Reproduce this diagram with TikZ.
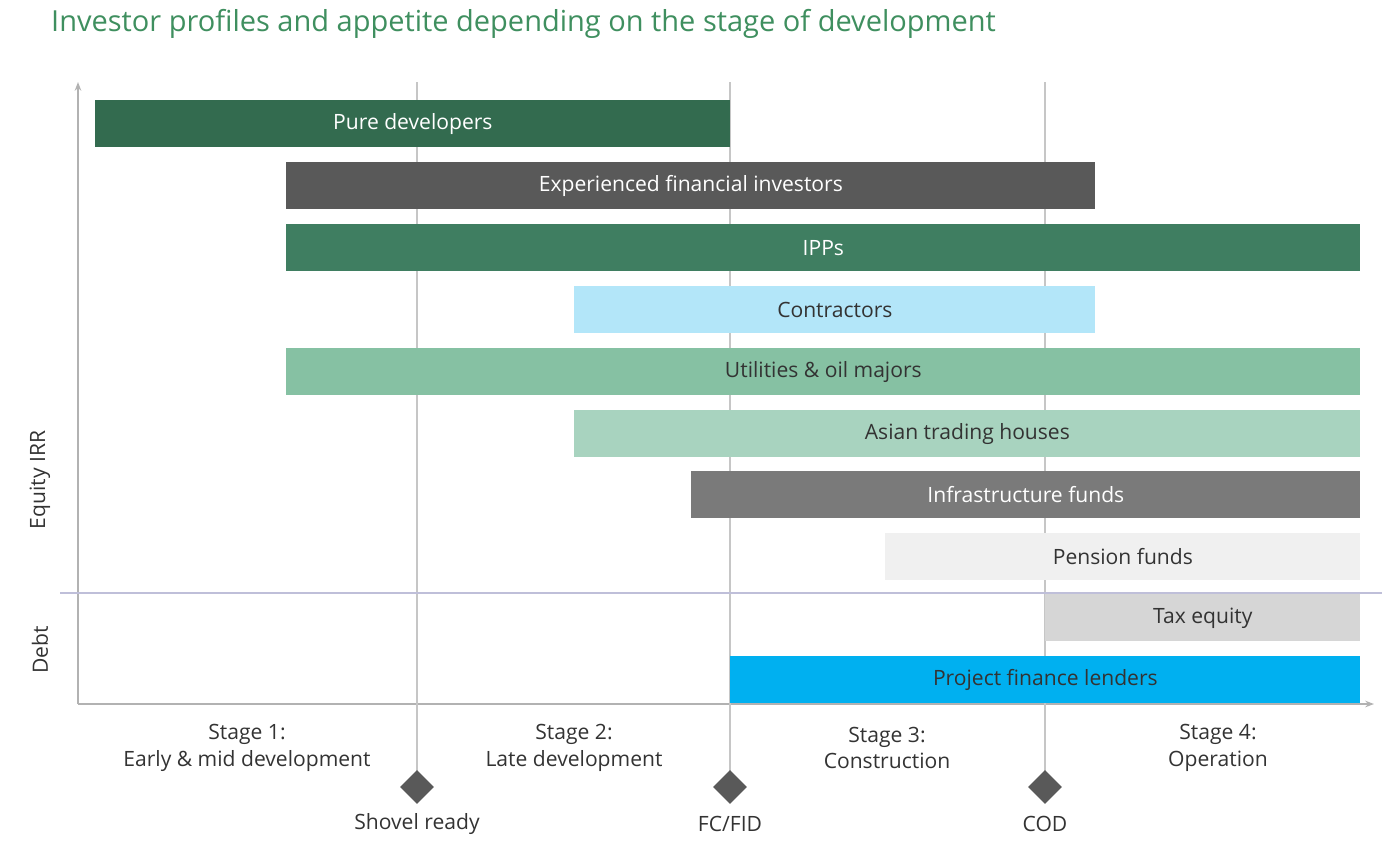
\documentclass[tikz,border=0pt]{standalone}
\usepackage{fontspec}
\setmainfont{Open Sans}
\usetikzlibrary{arrows.meta}
\definecolor{ttl}{HTML}{3F8F5F}
\definecolor{txt}{HTML}{333333}
\tikzset{
 bar/.style={anchor=north west,minimum height=0.94cm,inner sep=0pt,font=\fontsize{12}{14}\selectfont},
 lbl/.style={font=\fontsize{12}{15}\selectfont,text=txt,align=center},
 vline/.style={draw=gray!45,line width=0.6pt},
 dia/.style={fill=black!65,minimum size=0.48cm,inner sep=0pt,rotate=45}
}
\begin{document}
\begin{tikzpicture}[x=0.02cm,y=-0.02cm]
\useasboundingbox (0,0) rectangle (1400,840);
\node[anchor=west,text=ttl,font=\fontsize{16.5}{20}\selectfont] (title) at (45,24) {Investor profiles and appetite depending on the stage of development};
\coordinate (o) at (78,704);
\coordinate (yt) at (78,82);
\coordinate (xt) at (1374,704);
\draw[gray!60,line width=0.7pt,-{Stealth[length=5pt]}] (o) -- (yt);
\draw[gray!60,line width=0.7pt,-{Stealth[length=5pt]}] (o) -- (xt);
\foreach \x/\n in {417/a,730/b,1045/c}{
 \coordinate (t\n) at (\x,82); \coordinate (b\n) at (\x,790);
 \draw[vline] (t\n) -- (b\n);
}
\coordinate (hl) at (60,593); \coordinate (hr) at (1382,593);
\draw[draw=blue!25!gray!40,line width=0.6pt] (hl) -- (hr);
\def\B#1#2#3#4#5#6#7{\node[bar,fill=#5,text=#6,minimum width={(#3-#1)*0.02cm}] (#7) at (#1,#2) {#4};}
\definecolor{c1}{HTML}{336B4F}\definecolor{c2}{HTML}{595959}\definecolor{c3}{HTML}{3F7E61}
\definecolor{c4}{HTML}{B3E6F9}\definecolor{c5}{HTML}{86C1A3}\definecolor{c6}{HTML}{A8D3BF}
\definecolor{c7}{HTML}{7A7A7A}\definecolor{c8}{HTML}{F0F0F0}\definecolor{c9}{HTML}{D6D6D6}
\definecolor{c10}{HTML}{00B0F0}
\B{95}{100}{730}{Pure developers}{c1}{white}{b1}
\B{286}{162}{1095}{Experienced financial investors}{c2}{white}{b2}
\B{286}{224}{1360}{IPPs}{c3}{white}{b3}
\B{574}{286}{1095}{Contractors}{c4}{txt}{b4}
\B{286}{348}{1360}{Utilities \& oil majors}{c5}{txt}{b5}
\B{574}{410}{1360}{Asian trading houses}{c6}{txt}{b6}
\B{691}{471}{1360}{Infrastructure funds}{c7}{white}{b7}
\B{885}{533}{1360}{Pension funds}{c8}{txt}{b8}
\B{1045}{594}{1360}{Tax equity}{c9}{txt}{b9}
\B{730}{656}{1360}{Project finance lenders}{c10}{txt}{b10}
\node[lbl,rotate=90] (eq) at (40,480) {Equity IRR};
\node[lbl,rotate=90] (debt) at (40,650) {Debt};
\node[lbl] (s1) at (247,748) {Stage 1:\\Early \& mid development};
\node[lbl] (s2) at (574,748) {Stage 2:\\Late development};
\node[lbl] (s3) at (887,748) {Stage 3:\\Construction};
\node[lbl] (s4) at (1218,748) {Stage 4:\\Operation};
\node[dia] (d1) at (417,787) {};
\node[dia] (d2) at (730,787) {};
\node[dia] (d3) at (1045,787) {};
\node[lbl] (l1) at (417,824) {Shovel ready};
\node[lbl] (l2) at (730,824) {FC/FID};
\node[lbl] (l3) at (1045,824) {COD};
\end{tikzpicture}
\end{document}
